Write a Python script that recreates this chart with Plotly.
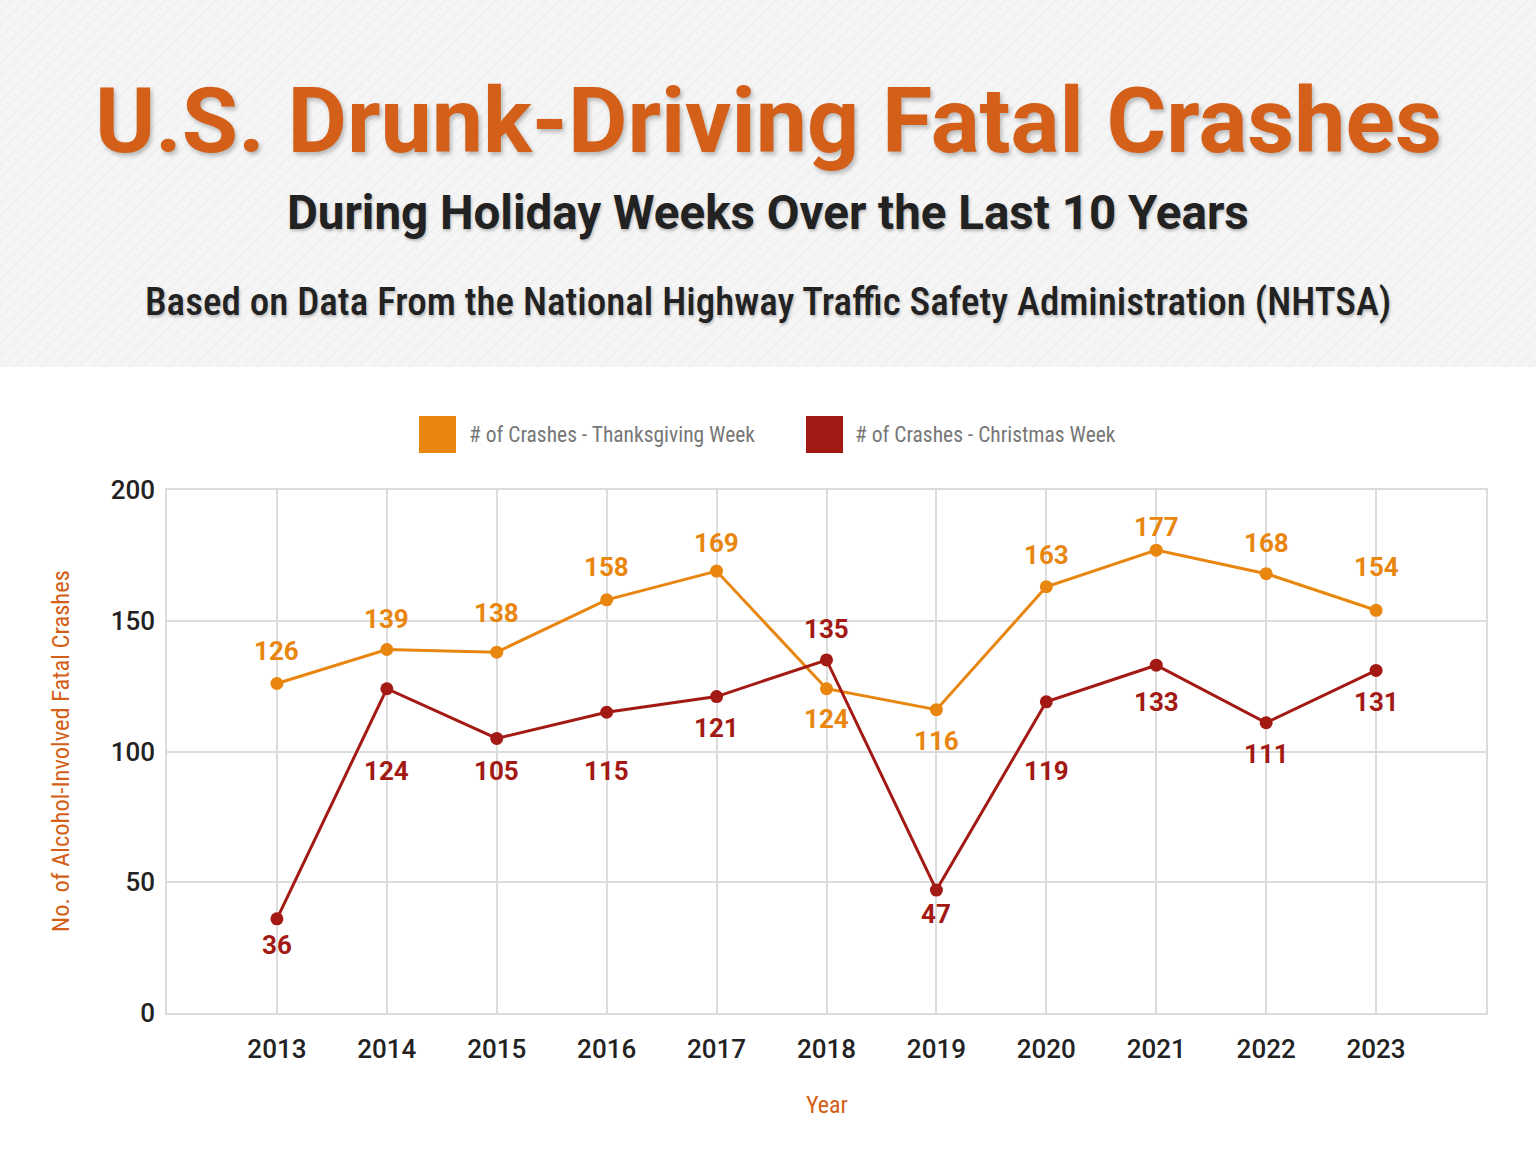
import plotly.graph_objects as go

years = [2013, 2014, 2015, 2016, 2017, 2018, 2019, 2020, 2021, 2022, 2023]
thanksgiving = [126, 139, 138, 158, 169, 124, 116, 163, 177, 168, 154]
christmas = [36, 124, 105, 115, 121, 135, 47, 119, 133, 111, 131]
y_ticks = [0, 50, 100, 150, 200]

# label placement (pixel shift of each value label from its point; negative = above)
thanks_label_shift = [-33, -31, -39, -33, -28, 30, 31, -32, -23, -31, -43]
christ_label_shift = [26, 82, 33, 59, 31, -31, 24, 69, 37, 31, 32]

ORANGE = "#e8860f"
RED = "#a31a14"
TITLE_ORANGE = "#d35f18"
COND = "Liberation Sans Narrow, Roboto Condensed, Roboto, sans-serif"
W, H = 1536, 1169

# plot area pixel box
PX0, PX1, PY0, PY1 = 167, 1486, 490, 1013

fig = go.Figure()

# header background with diagonal stripes
fig.add_trace(go.Bar(
    x=[0.5], y=[1], width=[1], xaxis="x2", yaxis="y2",
    marker=dict(color="#f4f4f4", line=dict(width=0),
                pattern=dict(shape="/", fgcolor="#e6e6e6", bgcolor="#f5f5f5", size=9, solidity=0.15)),
    hoverinfo="skip", showlegend=False,
))

fig.add_trace(go.Scatter(
    x=years, y=thanksgiving, mode="lines+markers",
    line=dict(color=ORANGE, width=3), marker=dict(color=ORANGE, size=13),
    name="# of Crashes - Thanksgiving Week", showlegend=False, cliponaxis=False,
))
fig.add_trace(go.Scatter(
    x=years, y=christmas, mode="lines+markers",
    line=dict(color=RED, width=3), marker=dict(color=RED, size=13),
    name="# of Crashes - Christmas Week", showlegend=False, cliponaxis=False,
))

fig.update_layout(
    width=W, height=H,
    margin=dict(l=0, r=0, t=0, b=0),
    paper_bgcolor="white", plot_bgcolor="white",
    xaxis=dict(domain=[PX0 / W, PX1 / W], range=[2012, 2024], tickvals=years,
               ticktext=[str(y) for y in years], showgrid=True, gridcolor="#dcdcdc", gridwidth=1.5,
               showline=True, linecolor="#dcdcdc", linewidth=1.5, mirror=True, zeroline=False,
               tickfont=dict(size=26, color="#222", family="Roboto", weight=500),
               ticks="", ticklabelstandoff=12, fixedrange=True, automargin=False),
    yaxis=dict(domain=[1 - PY1 / H, 1 - PY0 / H], range=[0, 200], tickvals=y_ticks,
               showgrid=True, gridcolor="#dcdcdc", gridwidth=1.5,
               showline=True, linecolor="#dcdcdc", linewidth=1.5, mirror=True, zeroline=False,
               tickfont=dict(size=26, color="#222", family="Roboto", weight=500),
               ticks="", ticklabelstandoff=5, fixedrange=True, automargin=False),
    xaxis2=dict(domain=[0, 1], range=[0, 1], visible=False, anchor="y2", fixedrange=True, automargin=False),
    yaxis2=dict(domain=[1 - 367 / H, 1], range=[0, 1], visible=False, anchor="x2", fixedrange=True,
                automargin=False),
    bargap=0,
)

ann = []
ann.append(dict(text="U.S. Drunk-Driving Fatal Crashes", x=0.5, y=1 - 120 / H, xref="paper", yref="paper",
                showarrow=False, xanchor="center", yanchor="middle",
                font=dict(size=91.5, color=TITLE_ORANGE, family="Roboto", weight="bold",
                          shadow="2px 3px 4px rgba(0,0,0,0.25)")))
ann.append(dict(text="During Holiday Weeks Over the Last 10 Years", x=0.5, y=1 - 213 / H, xref="paper", yref="paper",
                showarrow=False, xanchor="center", yanchor="middle",
                font=dict(size=47.5, color="#222", family="Roboto", weight="bold",
                          shadow="1px 2px 3px rgba(0,0,0,0.25)")))
ann.append(dict(text="Based on Data From the National Highway Traffic Safety Administration (NHTSA)", x=0.5,
                y=1 - 302 / H, xref="paper", yref="paper",
                showarrow=False, xanchor="center", yanchor="middle",
                font=dict(size=39, color="#222", family=COND, weight=500,
                          shadow="1px 2px 3px rgba(0,0,0,0.25)")))
# legend (manual)
ann.append(dict(text="# of Crashes - Thanksgiving Week", x=467 / W, y=1 - 434 / H, xref="paper", yref="paper",
                showarrow=False, xanchor="left", yanchor="middle",
                font=dict(size=21.5, color="#777", family=COND)))
ann.append(dict(text="# of Crashes - Christmas Week", x=853 / W, y=1 - 434 / H, xref="paper", yref="paper",
                showarrow=False, xanchor="left", yanchor="middle",
                font=dict(size=21.5, color="#777", family=COND)))
# axis titles
ann.append(dict(text="Year", x=(PX0 + PX1) / 2 / W, y=1 - 1105 / H, xref="paper", yref="paper",
                showarrow=False, xanchor="center", yanchor="middle",
                font=dict(size=24, color=TITLE_ORANGE, family=COND)))
ann.append(dict(text="No. of Alcohol-Involved Fatal Crashes", x=60 / W, y=1 - 751 / H, xref="paper", yref="paper",
                showarrow=False, xanchor="center", yanchor="middle", textangle=-90,
                font=dict(size=24.5, color=TITLE_ORANGE, family=COND)))

# value labels, placed from the data through the axes
for xv, yv, sh in zip(years, thanksgiving, thanks_label_shift):
    ann.append(dict(text=str(yv), x=xv, y=yv, xref="x", yref="y", showarrow=False,
                    xanchor="center", yanchor="middle", yshift=-sh,
                    font=dict(size=26, color=ORANGE, family="Roboto", weight="bold")))
for xv, yv, sh in zip(years, christmas, christ_label_shift):
    ann.append(dict(text=str(yv), x=xv, y=yv, xref="x", yref="y", showarrow=False,
                    xanchor="center", yanchor="middle", yshift=-sh,
                    font=dict(size=26, color=RED, family="Roboto", weight="bold")))
fig.update_layout(annotations=ann)

shapes = [
    dict(type="rect", xref="paper", yref="paper", x0=419 / W, x1=456 / W, y0=1 - 453 / H, y1=1 - 416 / H,
         fillcolor=ORANGE, line=dict(width=0)),
    dict(type="rect", xref="paper", yref="paper", x0=806 / W, x1=843 / W, y0=1 - 453 / H, y1=1 - 416 / H,
         fillcolor=RED, line=dict(width=0)),
]
fig.update_layout(shapes=shapes)

fig.write_html("out.html")
